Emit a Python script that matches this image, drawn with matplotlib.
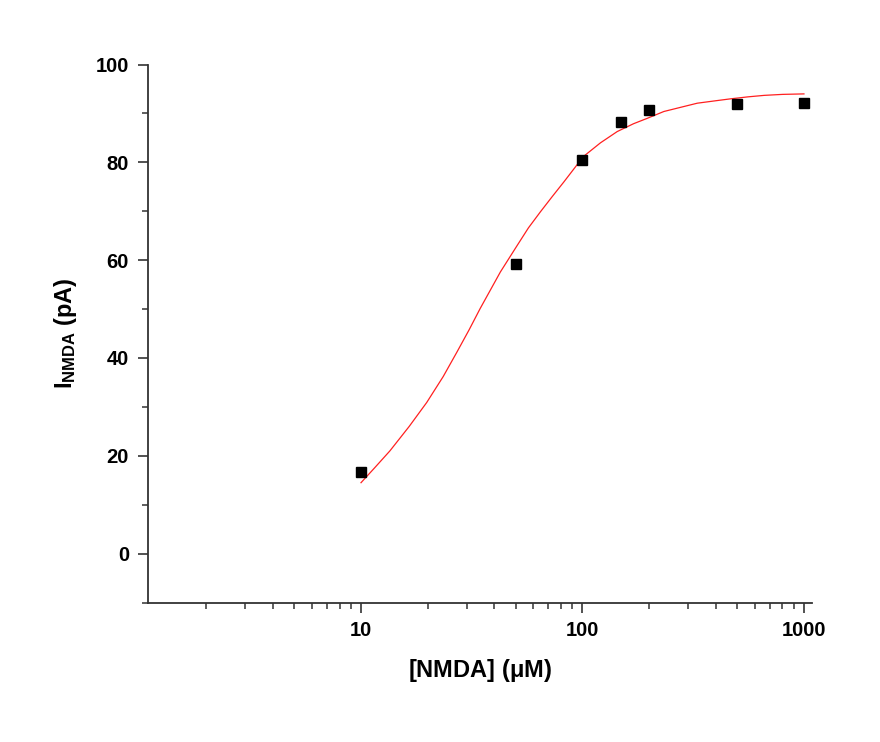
import matplotlib
matplotlib.use('Agg')
import matplotlib.pyplot as plt
from matplotlib.ticker import LogLocator, MultipleLocator, FixedLocator, NullFormatter

# measured points
conc = [10, 50, 100, 150, 200, 500, 1000]
current = [16.6, 59.3, 80.5, 88.2, 90.7, 92.0, 92.2]

# fitted curve
fit_x = [10, 11.5, 13.5, 16.5, 19.8, 23.5, 27.1, 30.8, 34.5, 38.5, 42.6, 50.7,
         57.0, 64.6, 73.0, 82.4, 101, 120.6, 143.5, 170, 196, 233, 280, 330,
         400, 468, 560, 662, 800, 1000]
fit_y = [14.5, 17.5, 21.0, 26.0, 30.9, 36.2, 41.2, 45.8, 50.1, 54.0, 57.6, 63.0,
         66.6, 69.9, 73.0, 76.0, 81.2, 84.0, 86.3, 87.9, 89.0, 90.4, 91.3, 92.1,
         92.6, 93.0, 93.4, 93.7, 93.9, 94.0]

x_ticks = [10, 100, 1000]
y_ticks = [0, 20, 40, 60, 80, 100]

plt.rcParams['font.family'] = ['Liberation Sans', 'DejaVu Sans']
plt.rcParams['font.weight'] = 'bold'
plt.rcParams['mathtext.fontset'] = 'custom'
plt.rcParams['mathtext.bf'] = 'Liberation Sans:bold'
plt.rcParams['mathtext.rm'] = 'Liberation Sans:bold'
plt.rcParams['mathtext.default'] = 'bf'

fig = plt.figure(figsize=(8.8, 7.42), dpi=100)
ax = fig.add_axes([0.168, 0.188, 0.755, 0.725])

ax.plot(fit_x, fit_y, color='#ff2020', lw=0.9)
ax.plot(conc, current, 's', color='black', ms=7.5, mec='black')

ax.set_xscale('log')
ax.set_xlim(1.09, 1090)
ax.set_ylim(-10, 100)

ax.xaxis.set_major_locator(FixedLocator(x_ticks))
ax.xaxis.set_minor_locator(LogLocator(base=10, subs=range(2, 10)))
ax.xaxis.set_minor_formatter(NullFormatter())
ax.set_xticklabels([str(t) for t in x_ticks])
ax.yaxis.set_major_locator(FixedLocator(y_ticks))
ax.yaxis.set_minor_locator(MultipleLocator(10))

for s in ['top', 'right']:
    ax.spines[s].set_visible(False)
for s in ['left', 'bottom']:
    ax.spines[s].set_linewidth(1.3)
    ax.spines[s].set_color('#333333')

ax.tick_params(which='major', direction='out', length=7.5, width=1.2, color='#333333',
               labelsize=14.5, pad=6)
ax.tick_params(which='minor', direction='out', length=4, width=1.1, color='#333333')
for lab in ax.get_xticklabels() + ax.get_yticklabels():
    lab.set_fontweight('bold')

ax.set_xlabel(r'[NMDA] ($\mathbf{\mu}$M)', fontsize=17, fontweight='bold', labelpad=12)
ax.set_ylabel(r'I$_{\mathbf{NMDA}}$ (pA)', fontsize=17, fontweight='bold', labelpad=12)

fig.savefig('out.png', dpi=100)
